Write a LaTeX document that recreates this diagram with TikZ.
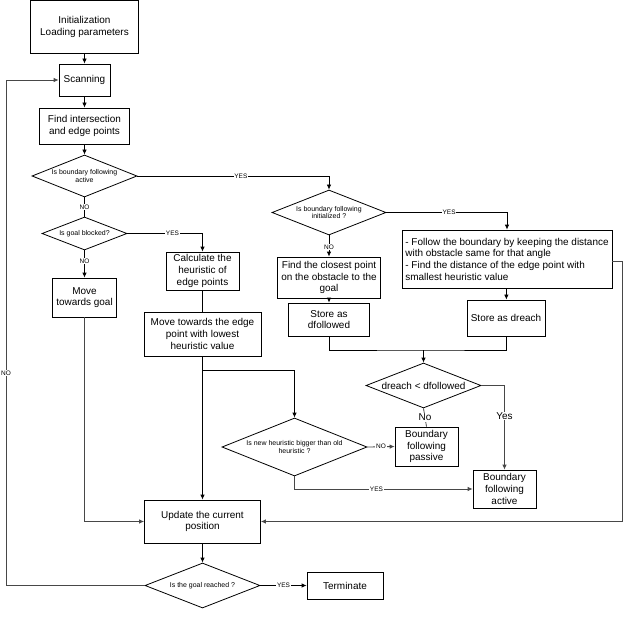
\documentclass[tikz,border=0pt]{standalone}
\usepackage{fontspec}
\setmainfont{Liberation Sans}
\usetikzlibrary{shapes.geometric,arrows.meta}
\begin{document}
\begin{tikzpicture}[x=1bp,y=-1bp,
 box/.style={draw=black,line width=0.8bp,inner sep=1bp,align=center,font=\fontsize{10}{11.7}\selectfont},
 dia/.style={draw=black,line width=0.8bp,diamond,inner sep=0pt},
 dtxt/.style={inner sep=0pt,align=center,font=\fontsize{7}{7.8}\selectfont},
 lab/.style={fill=white,inner sep=0.8bp,font=\fontsize{6.5}{7}\selectfont},
 blab/.style={fill=white,inner sep=0.8bp,font=\fontsize{10}{11}\selectfont},
 conn/.style={draw=black,line width=0.8bp},
 gconn/.style={draw=black!72,line width=0.8bp},
 arr/.style={-{Latex[length=5bp,width=4.5bp]}},
]
\useasboundingbox[fill=white] (0,0) rectangle (640,617);

% left column
\node[box,minimum width=108bp,minimum height=53bp] (init) at (84.5,27) {Initialization\\Loading parameters};
\node[box,minimum width=51bp,minimum height=32bp] (scan) at (84.5,80) {Scanning};
\node[box,minimum width=90bp,minimum height=36bp] (find) at (84.5,126) {Find intersection\\and edge points};
\node[dia,minimum width=105bp,minimum height=42bp] (d1) at (84.5,176) {};
\node[dtxt] (d1t) at (d1) {Is boundary following\\active};
\node[dia,minimum width=85bp,minimum height=33bp] (dgoal) at (84.5,233.5) {};
\node[dtxt] (dgoalt) at (dgoal) {Is goal blocked?};
\node[box,minimum width=64bp,minimum height=39bp] (move) at (84.5,297.5) {Move\\towards goal};

% middle column
\node[box,minimum width=73bp,minimum height=38bp] (calc) at (202.5,271) {Calculate the\\heuristic of\\edge points};
\node[box,minimum width=117bp,minimum height=44bp] (medge) at (202.5,334) {Move towards the edge\\point with lowest\\heuristic value};
\node[box,minimum width=116bp,minimum height=43bp] (update) at (202.5,521.5) {Update the current\\position};
\node[dia,minimum width=115bp,minimum height=45bp] (d5) at (202.5,585.5) {};
\node[dtxt] (d5t) at (d5) {Is the goal reached ?};
\node[box,minimum width=76bp,minimum height=27bp] (term) at (345,585.5) {Terminate};

% boundary following branch
\node[dia,minimum width=114bp,minimum height=45bp] (d2) at (329,212.5) {};
\node[dtxt] (d2t) at (d2) {Is boundary following\\initialized ?};
\node[box,minimum width=103bp,minimum height=41bp] (closest) at (329,277.5) {Find the closest point\\on the obstacle to the\\goal};
\node[box,minimum width=81bp,minimum height=33bp] (dfol) at (329,319.5) {Store as\\dfollowed};
\node[box,minimum width=210bp,minimum height=58bp,align=left] (follow) at (507,259) {- Follow the boundary by keeping the distance\\with obstacle same for that angle\\- Find the distance of the edge point with\\smallest heuristic value};
\node[box,minimum width=78bp,minimum height=36bp] (dreach) at (506,318) {Store as dreach};
\node[dia,minimum width=115bp,minimum height=45bp] (d3) at (423.5,385.5) {};
\node[inner sep=0pt,font=\fontsize{10}{11}\selectfont] (d3t) at (d3) {dreach < dfollowed};
\node[box,minimum width=63bp,minimum height=39bp] (passive) at (426.5,446.5) {Boundary\\following\\passive};
\node[box,minimum width=63bp,minimum height=38bp] (active) at (504.5,489) {Boundary\\following\\active};
\node[dia,minimum width=145bp,minimum height=58bp] (d4) at (294.5,447) {};
\node[dtxt] (d4t) at (d4) {Is new heuristic bigger than old\\heuristic ?};

% helper coordinates
\coordinate (m) at (423.5,350);
\coordinate (b) at (202.5,370);
\coordinate (lnode) at (6,585.5);
\coordinate (rnode) at (622.5,261);

% connectors
\draw[conn,arr] (init) -- (scan);
\draw[conn,arr] (scan) -- (find);
\draw[conn,arr] (find) -- (d1.north);
\draw[conn] (d1.south) -- node[lab]{NO} (dgoal.north);
\draw[conn,arr] (dgoal.south) -- node[lab,pos=0.4]{NO} (move.north);
\draw[conn,arr] (dgoal.east) -| node[lab,pos=0.3]{YES} (calc.north);
\draw[conn] (calc) -- (medge);
\draw[conn,arr] (medge) -- (update);
\draw[conn,arr] (b) -| (d4.north);
\draw[gconn,arr] (d4.east) -- node[lab]{NO} (passive.west);
\draw[gconn,arr] (d4.south) |- node[lab,pos=0.73]{YES} (active.west);
\draw[gconn,arr] (move.south) |- (update.west);
\draw[conn,arr] (update) -- (d5.north);
\draw[conn,arr] (d5.east) -- node[lab]{YES} (term.west);
\draw[gconn,arr] (d5.west) -- (lnode) |- node[lab,pos=0.21]{NO} (scan.west);

\draw[conn,arr] (d1.east) -| node[lab,pos=0.27]{YES} (d2.north);
\draw[conn,arr] (d2.south) -- node[lab,pos=0.55]{NO} (closest.north);
\draw[conn,arr] (d2.east) -| node[lab,pos=0.26]{YES} (follow.north);
\draw[conn,arr] (closest) -- (dfol);
\draw[conn,arr] (follow) -- (dreach);
\draw[conn] (dfol.south) |- (m) -| (dreach.south);
\draw[conn,arr] (m) -- (d3.north);
\draw[gconn] (d3.south) -- node[blab]{No} (passive.north);
\draw[gconn,arr] (d3.east) -| node[blab,pos=0.68]{Yes} (active.north);
\draw[gconn,arr] (follow.east |- rnode) -- (rnode) |- (update.east);
\end{tikzpicture}
\end{document}
